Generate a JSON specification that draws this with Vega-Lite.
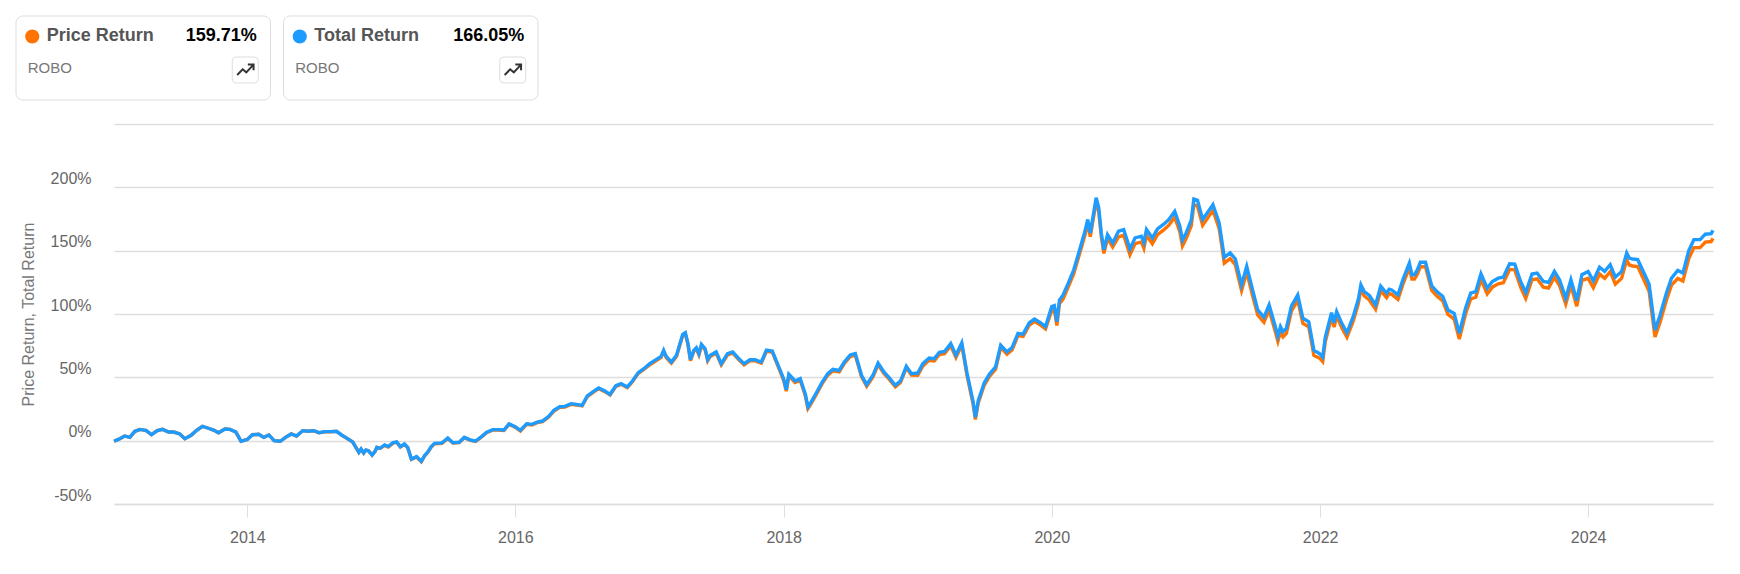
{
  "$schema": "https://vega.github.io/schema/vega-lite/v6.json",
  "background": "white",
  "padding": {"left": 15, "top": 15, "right": 0, "bottom": 0},
  "config": {
    "font": "Liberation Sans",
    "view": {"stroke": null}
  },
  "align": "none",
  "spacing": 6,
  "vconcat": [
    {
      "width": 522,
      "height": 84,
      "data": {"values": [
        {"series": "Price Return", "change": "159.71%", "ticker": "ROBO"},
        {"series": "Total Return", "change": "166.05%", "ticker": "ROBO"}
      ]},
      "encoding": {
        "x": {"field": "series", "type": "nominal", "axis": null, "scale": {"paddingInner": 0.0486, "paddingOuter": 0}}
      },
      "layer": [
        {"mark": {"type": "rect", "fill": "white", "stroke": "#dddddd", "strokeWidth": 1, "cornerRadius": 7, "xOffset": -98}},
        {
          "mark": {"type": "point", "filled": true, "size": 201, "opacity": 1, "xOffset": -209, "yOffset": -21.5},
          "encoding": {
            "color": {"field": "series", "type": "nominal", "legend": null, "scale": {"domain": ["Price Return", "Total Return"], "range": ["#ff7300", "#1e9bff"]}}
          }
        },
        {
          "mark": {"type": "text", "align": "left", "baseline": "middle", "dx": -194.5, "dy": -22, "fontSize": 18, "fontWeight": "bold", "color": "#555555"},
          "encoding": {"text": {"field": "series"}}
        },
        {
          "mark": {"type": "text", "align": "right", "baseline": "middle", "dx": 15.5, "dy": -22, "fontSize": 18, "fontWeight": "bold", "color": "#000000"},
          "encoding": {"text": {"field": "change"}}
        },
        {
          "mark": {"type": "text", "align": "left", "baseline": "middle", "dx": -213.5, "dy": 9.5, "fontSize": 15, "color": "#777777"},
          "encoding": {"text": {"field": "ticker"}}
        },
        {
          "mark": {"type": "point", "size": 676, "opacity": 1, "stroke": "#dddddd", "strokeWidth": 1, "fill": "white", "xOffset": 4, "yOffset": 12, "shape": "M-0.65,-1 H0.65 Q1,-1 1,-0.65 V0.65 Q1,1 0.65,1 H-0.65 Q-1,1 -1,0.65 V-0.65 Q-1,-1 -0.65,-1 Z"}
        },
        {
          "mark": {"type": "point", "size": 676, "opacity": 1, "stroke": "#333333", "strokeWidth": 2, "fill": null, "xOffset": 4, "yOffset": 12, "shape": "M-0.62,0.38 L-0.2,-0.05 L0.08,0.18 L0.6,-0.38 M0.2,-0.42 L0.64,-0.42 L0.64,0.02"}
        }
      ]
    },
    {
      "width": 1599,
      "height": 380,
      "data": {"values": [
        {"d":"2013-01-03","p":-0.5,"t":-0.5},{"d":"2013-01-15","p":1,"t":1},{"d":"2013-02-01","p":3.7,"t":3.7},{"d":"2013-02-15","p":2.6,"t":2.6},{"d":"2013-03-01","p":7.4,"t":7.4},{"d":"2013-03-15","p":8.9,"t":8.9},{"d":"2013-04-01","p":7.9,"t":7.9},{"d":"2013-04-15","p":4.7,"t":4.7},{"d":"2013-05-01","p":7.9,"t":7.9},{"d":"2013-05-15","p":8.9,"t":8.9},{"d":"2013-06-01","p":6.8,"t":6.8},{"d":"2013-06-15","p":6.8,"t":6.8},{"d":"2013-07-01","p":5.3,"t":5.3},{"d":"2013-07-15","p":1.6,"t":1.6},{"d":"2013-08-01","p":4.2,"t":4.2},{"d":"2013-08-15","p":7.9,"t":7.9},{"d":"2013-09-01","p":11.3,"t":11.3},{"d":"2013-09-15","p":10,"t":10},{"d":"2013-10-01","p":8.4,"t":8.4},{"d":"2013-10-15","p":6.3,"t":6.3},{"d":"2013-11-01","p":9.2,"t":9.2},{"d":"2013-11-15","p":8.9,"t":8.9},{"d":"2013-12-01","p":6.8,"t":6.8},{"d":"2013-12-15","p":-0.5,"t":-0.5},
        {"d":"2014-01-01","p":1,"t":1},{"d":"2014-01-15","p":4.7,"t":4.7},{"d":"2014-02-01","p":5,"t":5},{"d":"2014-02-15","p":2.6,"t":2.6},{"d":"2014-03-01","p":4.5,"t":4.5},{"d":"2014-03-15","p":0,"t":0},{"d":"2014-04-01","p":-0.5,"t":-0.5},{"d":"2014-04-15","p":2.6,"t":2.6},{"d":"2014-05-01","p":5.3,"t":5.3},{"d":"2014-05-15","p":3.7,"t":3.7},{"d":"2014-06-01","p":7.9,"t":7.9},{"d":"2014-06-15","p":7.4,"t":7.4},{"d":"2014-07-01","p":7.8,"t":7.9},{"d":"2014-07-15","p":6.2,"t":6.3},{"d":"2014-08-01","p":7,"t":7.1},{"d":"2014-08-15","p":7,"t":7.1},{"d":"2014-09-01","p":7.3,"t":7.4},{"d":"2014-09-15","p":4.4,"t":4.5},{"d":"2014-10-01","p":1.5,"t":1.6},{"d":"2014-10-15","p":-1.1,"t":-1},
        {"d":"2014-11-01","p":-9.3,"t":-9.2},{"d":"2014-11-07","p":-6.7,"t":-6.6},{"d":"2014-11-14","p":-9.8,"t":-9.7},{"d":"2014-11-20","p":-7.5,"t":-7.4},{"d":"2014-11-27","p":-8,"t":-7.9},{"d":"2014-12-07","p":-11.4,"t":-11.3},{"d":"2014-12-15","p":-8.5,"t":-8.4},{"d":"2014-12-20","p":-5.4,"t":-5.3},{"d":"2014-12-29","p":-6.1,"t":-6},
        {"d":"2015-01-10","p":-3.7,"t":-3.4},{"d":"2015-01-20","p":-5,"t":-4.7},{"d":"2015-02-02","p":-1.9,"t":-1.6},{"d":"2015-02-12","p":-1.3,"t":-1},{"d":"2015-02-22","p":-5,"t":-4.7},{"d":"2015-03-05","p":-2.9,"t":-2.6},{"d":"2015-03-14","p":-5.6,"t":-5.3},{"d":"2015-03-24","p":-14.8,"t":-14.5},{"d":"2015-04-07","p":-12.9,"t":-12.6},{"d":"2015-04-20","p":-16.6,"t":-16.3},{"d":"2015-04-29","p":-12.1,"t":-11.8},{"d":"2015-05-07","p":-9.5,"t":-9.2},{"d":"2015-05-17","p":-5,"t":-4.7},{"d":"2015-05-26","p":-2.4,"t":-2.1},{"d":"2015-06-15","p":-2.1,"t":-1.8},{"d":"2015-07-01","p":1.8,"t":2.1},{"d":"2015-07-15","p":-1.9,"t":-1.6},{"d":"2015-08-01","p":-1.6,"t":-1.3},{"d":"2015-08-15","p":2.3,"t":2.6},{"d":"2015-09-01","p":0.2,"t":0.5},{"d":"2015-09-15","p":-0.6,"t":-0.3},{"d":"2015-10-01","p":2.9,"t":3.2},{"d":"2015-10-15","p":6.3,"t":6.6},{"d":"2015-11-01","p":8.4,"t":8.7},{"d":"2015-11-15","p":8.4,"t":8.7},{"d":"2015-12-01","p":8.1,"t":8.4},{"d":"2015-12-15","p":12.9,"t":13.2},
        {"d":"2016-01-01","p":10.5,"t":11},{"d":"2016-01-15","p":7.7,"t":8.2},{"d":"2016-02-01","p":12.9,"t":13.4},{"d":"2016-02-15","p":12.4,"t":12.9},{"d":"2016-03-01","p":14.2,"t":14.7},{"d":"2016-03-15","p":15,"t":15.5},{"d":"2016-04-01","p":18.7,"t":19.2},{"d":"2016-04-15","p":23.4,"t":23.9},{"d":"2016-05-01","p":26.3,"t":26.8},{"d":"2016-05-15","p":26.6,"t":27.1},{"d":"2016-06-01","p":28.7,"t":29.2},{"d":"2016-06-15","p":28.2,"t":28.7},{"d":"2016-07-01","p":27.4,"t":27.9},{"d":"2016-07-15","p":34.8,"t":35.3},{"d":"2016-08-01","p":38.4,"t":38.9},{"d":"2016-08-15","p":41.1,"t":41.6},{"d":"2016-09-01","p":38.7,"t":39.2},{"d":"2016-09-15","p":36.1,"t":36.6},{"d":"2016-10-01","p":42.9,"t":43.4},{"d":"2016-10-15","p":44.5,"t":45},{"d":"2016-11-01","p":41.9,"t":42.4},{"d":"2016-11-15","p":46.6,"t":47.1},{"d":"2016-12-01","p":53.2,"t":53.7},{"d":"2016-12-15","p":56.1,"t":56.6},
        {"d":"2017-01-01","p":59.9,"t":60.8},{"d":"2017-01-15","p":62.5,"t":63.4},{"d":"2017-02-01","p":65.7,"t":66.6},{"d":"2017-02-08","p":70.4,"t":71.3},{"d":"2017-02-15","p":65.7,"t":66.6},{"d":"2017-03-01","p":61.2,"t":62.1},{"d":"2017-03-15","p":66.5,"t":67.4},{"d":"2017-04-01","p":83.1,"t":84},{"d":"2017-04-08","p":84.4,"t":85.3},{"d":"2017-04-15","p":76.2,"t":77.1},{"d":"2017-04-22","p":63.1,"t":64},{"d":"2017-05-01","p":70.4,"t":71.3},{"d":"2017-05-08","p":72.5,"t":73.4},{"d":"2017-05-15","p":67.8,"t":68.7},{"d":"2017-05-22","p":75.1,"t":76},{"d":"2017-06-01","p":71.7,"t":72.6},{"d":"2017-06-08","p":63.1,"t":64},{"d":"2017-06-15","p":66.5,"t":67.4},{"d":"2017-07-01","p":69.1,"t":70},{"d":"2017-07-15","p":59.9,"t":60.8},{"d":"2017-08-01","p":67.8,"t":68.7},{"d":"2017-08-15","p":69.1,"t":70},{"d":"2017-09-01","p":63.8,"t":64.7},{"d":"2017-09-15","p":59.9,"t":60.8},{"d":"2017-10-01","p":63,"t":63.9},{"d":"2017-10-15","p":63,"t":63.9},{"d":"2017-11-01","p":61.2,"t":62.1},{"d":"2017-11-15","p":70.6,"t":71.5},{"d":"2017-12-01","p":69.9,"t":70.8},{"d":"2017-12-15","p":59.9,"t":60.8},
        {"d":"2018-01-01","p":47.5,"t":48.7},{"d":"2018-01-08","p":39.1,"t":40.3},{"d":"2018-01-15","p":51.2,"t":52.4},{"d":"2018-02-01","p":45.9,"t":47.1},{"d":"2018-02-15","p":47.8,"t":49},{"d":"2018-03-01","p":35.4,"t":36.6},{"d":"2018-03-08","p":25.4,"t":26.6},{"d":"2018-03-15","p":28.5,"t":29.7},{"d":"2018-04-01","p":37.2,"t":38.4},{"d":"2018-04-15","p":44.6,"t":45.8},{"d":"2018-05-01","p":51.7,"t":52.9},{"d":"2018-05-15","p":55.1,"t":56.3},{"d":"2018-06-01","p":54.3,"t":55.5},{"d":"2018-06-15","p":60.9,"t":62.1},{"d":"2018-07-01","p":66.4,"t":67.6},{"d":"2018-07-15","p":67.5,"t":68.7},{"d":"2018-08-01","p":50.4,"t":51.6},{"d":"2018-08-15","p":43,"t":44.2},{"d":"2018-09-01","p":50.4,"t":51.6},{"d":"2018-09-15","p":60.1,"t":61.3},{"d":"2018-10-01","p":53,"t":54.2},{"d":"2018-10-15","p":48.5,"t":49.7},{"d":"2018-11-01","p":42.5,"t":43.7},{"d":"2018-11-15","p":45.9,"t":47.1},{"d":"2018-12-01","p":57.5,"t":58.7},{"d":"2018-12-15","p":51.7,"t":52.9},
        {"d":"2019-01-01","p":51.6,"t":53.4},{"d":"2019-01-15","p":59,"t":60.8},{"d":"2019-02-01","p":63.5,"t":65.3},{"d":"2019-02-15","p":63,"t":64.8},{"d":"2019-03-01","p":68,"t":69.8},{"d":"2019-03-15","p":68.6,"t":70.4},{"d":"2019-04-01","p":74.9,"t":76.7},{"d":"2019-04-15","p":65.7,"t":67.5},{"d":"2019-05-01","p":75.5,"t":77.3},{"d":"2019-05-15","p":51.9,"t":53.7},{"d":"2019-06-01","p":28.6,"t":30.4},{"d":"2019-06-07","p":16.7,"t":18.5},{"d":"2019-06-15","p":29.9,"t":31.7},{"d":"2019-07-01","p":43.7,"t":45.5},{"d":"2019-07-15","p":50.6,"t":52.4},{"d":"2019-08-01","p":56.4,"t":58.2},{"d":"2019-08-15","p":73.6,"t":75.4},{"d":"2019-09-01","p":68.3,"t":70.1},{"d":"2019-09-15","p":71.7,"t":73.5},{"d":"2019-10-01","p":82.9,"t":84.7},{"d":"2019-10-15","p":82.3,"t":84.1},{"d":"2019-11-01","p":91.3,"t":93.1},{"d":"2019-11-15","p":94.2,"t":96},{"d":"2019-12-01","p":91.3,"t":93.1},{"d":"2019-12-15","p":88.2,"t":90},
        {"d":"2020-01-01","p":102.8,"t":105.8},{"d":"2020-01-08","p":103.6,"t":106.6},{"d":"2020-01-15","p":90.9,"t":93.9},{"d":"2020-01-22","p":108,"t":111},{"d":"2020-02-01","p":112,"t":115},{"d":"2020-02-15","p":121.4,"t":124.4},{"d":"2020-03-01","p":131.9,"t":134.9},{"d":"2020-03-15","p":145.7,"t":148.7},{"d":"2020-04-01","p":162.9,"t":165.9},{"d":"2020-04-08","p":171.6,"t":174.6},{"d":"2020-04-15","p":161,"t":164},{"d":"2020-05-01","p":188.8,"t":191.8},{"d":"2020-05-08","p":180.9,"t":183.9},{"d":"2020-05-15","p":161,"t":164},{"d":"2020-05-22","p":147.8,"t":150.8},{"d":"2020-06-01","p":159.7,"t":162.7},{"d":"2020-06-15","p":153,"t":156},
        {"d":"2020-07-01","p":160.9,"t":165.4},{"d":"2020-07-15","p":162.2,"t":166.7},{"d":"2020-08-01","p":146.8,"t":151.3},{"d":"2020-08-15","p":155.6,"t":160.1},{"d":"2020-09-01","p":156.9,"t":161.4},{"d":"2020-09-08","p":151.9,"t":156.4},{"d":"2020-09-15","p":162.2,"t":166.7},{"d":"2020-10-01","p":155.5,"t":160},{"d":"2020-10-15","p":162.7,"t":167.2},{"d":"2020-11-01","p":166.4,"t":170.9},{"d":"2020-11-15","p":170.1,"t":174.6},{"d":"2020-12-01","p":176.5,"t":181},{"d":"2020-12-15","p":164.8,"t":169.3},{"d":"2020-12-22","p":153.7,"t":158.2},
        {"d":"2021-01-01","p":159.5,"t":164},{"d":"2021-01-15","p":169.6,"t":174.1},{"d":"2021-01-22","p":186.3,"t":190.8},{"d":"2021-02-01","p":185.2,"t":189.7},{"d":"2021-02-15","p":170.1,"t":174.6},{"d":"2021-03-01","p":175.9,"t":180.4},{"d":"2021-03-15","p":181.8,"t":186.3},{"d":"2021-04-01","p":167.5,"t":172},{"d":"2021-04-15","p":140.2,"t":144.7},{"d":"2021-05-01","p":143.7,"t":148.2},{"d":"2021-05-15","p":138.9,"t":143.4},{"d":"2021-06-01","p":118.5,"t":123},{"d":"2021-06-15","p":133.1,"t":137.6},{"d":"2021-07-01","p":114.5,"t":119},{"d":"2021-07-15","p":99.2,"t":103.2},{"d":"2021-08-01","p":93.4,"t":97.4},{"d":"2021-08-15","p":103.2,"t":107.2},{"d":"2021-09-01","p":86,"t":90},{"d":"2021-09-08","p":78.5,"t":82.5},{"d":"2021-09-15","p":86,"t":90},{"d":"2021-09-22","p":82,"t":86},{"d":"2021-10-01","p":84.6,"t":88.6},{"d":"2021-10-15","p":102.4,"t":106.4},{"d":"2021-11-01","p":111,"t":115},{"d":"2021-11-15","p":92.6,"t":96.6},{"d":"2021-12-01","p":89.9,"t":93.9},{"d":"2021-12-15","p":67.4,"t":71.4},
        {"d":"2022-01-01","p":64.8,"t":68.3},{"d":"2022-01-08","p":62.5,"t":66},{"d":"2022-01-15","p":78,"t":81.5},{"d":"2022-02-01","p":97.6,"t":101.1},{"d":"2022-02-08","p":89.6,"t":93.1},{"d":"2022-02-15","p":98.4,"t":101.9},{"d":"2022-03-01","p":89.1,"t":92.6},{"d":"2022-03-15","p":81.7,"t":85.2},{"d":"2022-04-01","p":94.4,"t":97.9},{"d":"2022-04-15","p":108.2,"t":111.7},{"d":"2022-04-22","p":119.5,"t":123},{"d":"2022-05-01","p":114.2,"t":117.7},{"d":"2022-05-15","p":111.1,"t":114.6},{"d":"2022-06-01","p":103.7,"t":107.2},{"d":"2022-06-15","p":118.5,"t":122},{"d":"2022-07-01","p":112.9,"t":116.4},{"d":"2022-07-08","p":116.1,"t":119.6},{"d":"2022-07-15","p":115.5,"t":119},{"d":"2022-08-01","p":111.6,"t":115.1},{"d":"2022-08-15","p":124,"t":127.5},{"d":"2022-09-01","p":136.7,"t":140.2},{"d":"2022-09-08","p":127.5,"t":131},{"d":"2022-09-15","p":127.5,"t":131},{"d":"2022-09-22","p":130.9,"t":134.4},{"d":"2022-10-01","p":137.3,"t":140.8},{"d":"2022-10-15","p":137.3,"t":140.8},{"d":"2022-11-01","p":118.7,"t":122.2},{"d":"2022-11-15","p":114.2,"t":117.7},{"d":"2022-12-01","p":110.3,"t":113.8},{"d":"2022-12-15","p":99.7,"t":103.2},
        {"d":"2023-01-01","p":96,"t":100.5},{"d":"2023-01-15","p":80.2,"t":84.7},{"d":"2023-02-01","p":100,"t":104.5},{"d":"2023-02-15","p":111.9,"t":116.4},{"d":"2023-03-01","p":113.2,"t":117.7},{"d":"2023-03-15","p":127.3,"t":131.8},{"d":"2023-04-01","p":115.9,"t":120.4},{"d":"2023-04-15","p":121.2,"t":125.7},{"d":"2023-05-01","p":123.8,"t":128.3},{"d":"2023-05-15","p":124.6,"t":129.1},{"d":"2023-06-01","p":135.2,"t":139.7},{"d":"2023-06-15","p":134.9,"t":139.4},{"d":"2023-07-01","p":121.2,"t":125.7},{"d":"2023-07-15","p":112.4,"t":116.9},{"d":"2023-08-01","p":127,"t":131.5},{"d":"2023-08-15","p":127.8,"t":132.3},{"d":"2023-09-01","p":121.2,"t":125.7},{"d":"2023-09-15","p":120.4,"t":124.9},{"d":"2023-10-01","p":129.1,"t":133.6},{"d":"2023-10-15","p":122.5,"t":127},{"d":"2023-11-01","p":107.9,"t":112.4},{"d":"2023-11-15","p":122.5,"t":127},{"d":"2023-12-01","p":106.1,"t":110.6},{"d":"2023-12-15","p":126.5,"t":131},
        {"d":"2024-01-01","p":128.1,"t":133.6},{"d":"2024-01-15","p":120.7,"t":126.2},{"d":"2024-02-01","p":131.5,"t":137},{"d":"2024-02-15","p":128.1,"t":133.6},{"d":"2024-03-01","p":133.4,"t":138.9},{"d":"2024-03-15","p":123.6,"t":129.1},{"d":"2024-04-01","p":128.1,"t":133.6},{"d":"2024-04-15","p":142.7,"t":148.2},{"d":"2024-04-22","p":138.7,"t":144.2},{"d":"2024-05-01","p":137.9,"t":143.4},{"d":"2024-05-15","p":137.4,"t":142.9},{"d":"2024-06-01","p":126.8,"t":132.3},{"d":"2024-06-15","p":118,"t":123.5},{"d":"2024-07-01","p":81.8,"t":87.3},{"d":"2024-07-15","p":93.7,"t":99.2},{"d":"2024-08-01","p":110.9,"t":116.4},{"d":"2024-08-15","p":122.8,"t":128.3},{"d":"2024-09-01","p":128.1,"t":134.4},{"d":"2024-09-15","p":126,"t":132.3},{"d":"2024-10-01","p":143.7,"t":150},{"d":"2024-10-15","p":152.4,"t":158.7},{"d":"2024-11-01","p":152.4,"t":158.7},{"d":"2024-11-15","p":156.7,"t":163},{"d":"2024-12-01","p":157.2,"t":163.5},{"d":"2024-12-06","p":159.71,"t":166.05}
      ]},
      "encoding": {
        "x": {
          "field": "d",
          "type": "temporal",
          "title": null,
          "scale": {"domain": ["2013-01-03", "2024-12-06"], "nice": false},
          "axis": {
            "values": [{"year": 2014, "month": 1, "date": 1}, {"year": 2016, "month": 1, "date": 1}, {"year": 2018, "month": 1, "date": 1}, {"year": 2020, "month": 1, "date": 1}, {"year": 2022, "month": 1, "date": 1}, {"year": 2024, "month": 1, "date": 1}],
            "format": "%Y",
            "grid": false,
            "domainColor": "#dddddd",
            "domainWidth": 1.5,
            "tickColor": "#dddddd",
            "tickWidth": 1,
            "tickSize": 13,
            "labelPadding": 12,
            "labelFontSize": 16,
            "labelColor": "#666666",
            "labelFlush": false
          }
        }
      },
      "layer": [
        {
          "mark": {"type": "line", "color": "#ff7300", "strokeWidth": 3.4, "interpolate": "linear"},
          "encoding": {
            "y": {
              "field": "p",
              "type": "quantitative",
              "title": "Price Return, Total Return",
              "scale": {"domain": [-50, 250], "nice": false},
              "axis": {
                "values": [-50, 0, 50, 100, 150, 200, 250],
                "labelExpr": "datum.value < 250 ? datum.value + '%' : ''",
                "labelOffset": -9,
                "labelPadding": 23,
                "labelFontSize": 16,
                "labelColor": "#666666",
                "labelOverlap": false,
                "labelBound": false,
                "domain": false,
                "ticks": false,
                "gridColor": "#dddddd",
                "gridWidth": 1.5,
                "titleFontSize": 16,
                "titleFontWeight": "normal",
                "titleColor": "#777777",
                "titlePadding": 14
              }
            }
          }
        },
        {
          "mark": {"type": "line", "color": "#1e9bff", "strokeWidth": 3.4, "interpolate": "linear"},
          "encoding": {
            "y": {
              "field": "t",
              "type": "quantitative",
              "title": "Price Return, Total Return",
              "scale": {"domain": [-50, 250], "nice": false},
              "axis": {
                "values": [-50, 0, 50, 100, 150, 200, 250],
                "labelExpr": "datum.value < 250 ? datum.value + '%' : ''",
                "labelOffset": -9,
                "labelPadding": 23,
                "labelFontSize": 16,
                "labelColor": "#666666",
                "labelOverlap": false,
                "labelBound": false,
                "domain": false,
                "ticks": false,
                "gridColor": "#dddddd",
                "gridWidth": 1.5,
                "titleFontSize": 16,
                "titleFontWeight": "normal",
                "titleColor": "#777777",
                "titlePadding": 14
              }
            }
          }
        }
      ]
    }
  ]
}
